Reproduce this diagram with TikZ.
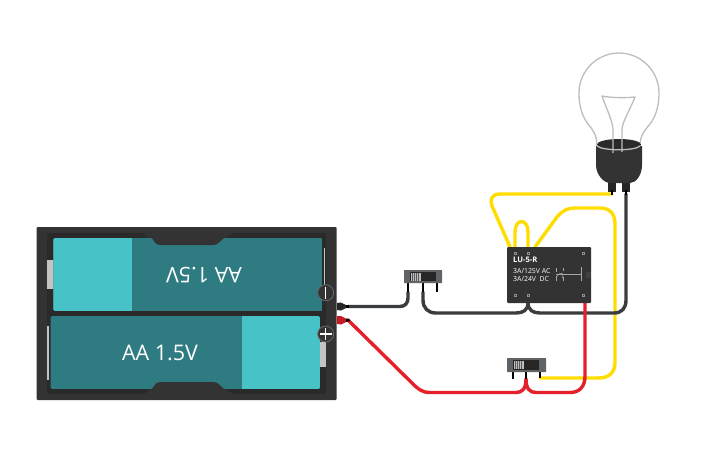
\documentclass[tikz,border=0pt]{standalone}
\usepackage{fontspec}
\setmainfont{Open Sans}
\definecolor{holder}{HTML}{333333}
\definecolor{holderin}{HTML}{2A2A2A}
\definecolor{teal1}{HTML}{2F7B82}
\definecolor{cyan1}{HTML}{47C3C8}
\definecolor{contact}{HTML}{C4C4C4}
\definecolor{wyellow}{HTML}{FFDD00}
\definecolor{wred}{HTML}{E6202A}
\definecolor{wblack}{HTML}{3A3D40}
\definecolor{pin}{HTML}{8F9396}
\definecolor{glass}{HTML}{BDBDBD}
\tikzset{
  wire/.style={line width=3.4pt,line cap=round,line join=round},
  yw/.style={wire,wyellow},
  rw/.style={wire,wred},
  bw/.style={wire,wblack},
  pinline/.style={line width=1.8pt,pin},
  lbl/.style={text=white,inner sep=0pt,font=\fontsize{21.5}{22}\selectfont},
  rel/.style={text=white,inner sep=0pt,anchor=west,font=\fontsize{6.9}{7}\selectfont},
  relpin/.style={draw=white!45!holder,line width=.4pt,minimum size=2.4pt,inner sep=0pt,rectangle},
  pole/.style={circle,draw=gray!70!holder,line width=.8pt,fill=holder,minimum size=16pt,inner sep=0pt},
}
\begin{document}
\begin{tikzpicture}[x=1pt,y=-1pt]
\useasboundingbox[fill=white] (0,0) rectangle (725,453);
% coordinates
\coordinate (bminus) at (348,306.5);
\coordinate (bplus) at (348,320);
\coordinate (s1a) at (408,292);
\coordinate (s1b) at (423,292);
\coordinate (s1c) at (437,292);
\coordinate (s2a) at (513,379);
\coordinate (s2b) at (526,379);
\coordinate (s2c) at (540,378);
\coordinate (r1) at (510,247);
\coordinate (r2) at (515,247);
\coordinate (r3) at (528,247);
\coordinate (r4) at (535,247);
\coordinate (r5) at (528,303);
\coordinate (r6) at (585,303);
\coordinate (l1) at (612,194);
\coordinate (l2) at (626,194);
% battery holder
\fill[holder,rounded corners=1pt] (36.7,227) rectangle (336.7,400);
\fill[holderin,rounded corners=1pt] (47,233) rectangle (326,394);
\fill[holder] (140,232.5) .. controls (148,233) and (150,245) .. (160,245) -- (214,245) .. controls (222,245) and (226,233) .. (237,232.5) -- cycle;
\fill[holder] (142,394.5) .. controls (150,394) and (150,382) .. (160,382) -- (214,382) .. controls (222,382) and (226,394) .. (237,394.5) -- cycle;
% contacts
\fill[contact] (47,260) rectangle (53.5,289);
\fill[contact] (320,342) rectangle (326,367);
\draw[contact,line width=1.2pt] (324.5,248) -- (324.5,292);
\draw[contact,line width=1.2pt] (48,326) -- (48,380);
% top battery
\begin{scope}
\clip[rounded corners=1.5pt] (53.3,238) rectangle (322.7,311);
\fill[teal1] (53,238) rectangle (323,311);
\fill[cyan1] (53,238) rectangle (131.7,311);
\fill[holder] (150,237) .. controls (154,238) and (154,245) .. (160,245) -- (214,245) .. controls (219,245) and (222,238) .. (226,237) -- cycle;
\end{scope}
% bottom battery
\begin{scope}
\clip[rounded corners=1.5pt] (50.7,316) rectangle (320,389);
\fill[teal1] (50,316) rectangle (320,389);
\fill[cyan1] (241.7,316) rectangle (320,389);
\fill[holder] (150,390) .. controls (154,389) and (154,382) .. (160,382) -- (214,382) .. controls (219,382) and (222,389) .. (226,390) -- cycle;
\end{scope}
\node[lbl,rotate=180] (toplabel) at (204,275.5) {AA 1.5V};
\node[lbl] (botlabel) at (160,352.5) {AA 1.5V};
% poles
\node[pole] (minus) at (325.7,292.7) {};
\draw[white,line width=1.4pt] (325.7,286.5) -- (325.7,299);
\node[pole] (plus) at (325.7,334) {};
\draw[white,line width=1.4pt] (325.7,328) -- (325.7,340) (319.7,334) -- (331.7,334);
% battery leads
\fill[black!85] (337,303) -- (341,302.5) -- (346,305) -- (346,308) -- (341,310.5) -- (337,310) -- cycle;
\fill[wred!85!black] (337,316) -- (341,316) -- (346,318.5) -- (346,322) -- (341,324.5) -- (337,324) -- cycle;
% wires
\draw[yw] (l1) -- (500,194) .. controls (491,194) and (490,200) .. (492,206) -- (r1);
\draw[yw] (r2) -- (515,232) .. controls (515,218) and (528,218) .. (528,232) -- (r3);
\draw[yw] (r4) -- (557,217) .. controls (563,210) and (568,208) .. (575,208) -- (600,208) .. controls (610,208) and (615,214) .. (615,224) -- (615,362) .. controls (615,373) and (609,378) .. (598,378) -- (s2c);
\draw[bw] (bminus) -- (400,306.5) .. controls (405,306.5) and (408,303) .. (408,298) -- (s1a);
\draw[bw] (s1b) -- (423,300) .. controls (423,308) and (428,313) .. (436,313) -- (516,313) .. controls (523,313) and (528,310) .. (r5);
\draw[bw] (r5) .. controls (528,310) and (533,313) .. (540,313) -- (614,313) .. controls (622,313) and (626,308) .. (626,300) -- (l2);
\draw[rw] (bplus) -- (412,383) .. controls (418,389) and (422,392.5) .. (430,392.5) -- (516,392.5) .. controls (522,392.5) and (526,389) .. (s2b);
\draw[rw] (s2b) .. controls (526,389) and (530,392.5) .. (536,392.5) -- (570,392.5) .. controls (580,392.5) and (585,386) .. (585,376) -- (r6);
% plug tips
\fill[pin] (346,305) rectangle (349,308);
\fill[pin] (346,318.5) -- (349,318.5) -- (350,321) -- (346,322) -- cycle;
% switch 1
\draw[pinline] (s1a) -- (408,283) (s1b) -- (423,283) (s1c) -- (437,283);
\fill[wblack!80,rounded corners=.5pt] (404,270) rectangle (442,283);
\fill[black!85] (410,272) rectangle (436,281);
\fill[gray!50] (411,273) rectangle (421,280.5);
\foreach \i in {412.5,414.5,416.5,418.5} \draw[black!65,line width=.6pt] (\i,273) -- (\i,280.5);
% switch 2
\draw[pinline] (s2a) -- (513,372) (s2b) -- (526,372) (s2c) -- (540,372);
\fill[wblack!80,rounded corners=.5pt] (507,358) rectangle (546,372);
\fill[black!85] (513,360) rectangle (539,369.5);
\fill[gray!50] (514,361) rectangle (524,369);
\foreach \i in {515.5,517.5,519.5,521.5} \draw[black!65,line width=.6pt] (\i,361) -- (\i,369);
% relay
\fill[holder,rounded corners=1pt] (507,247) rectangle (591,303);
\fill[black!75] (586,272) rectangle (591,278);
\foreach \n/\x/\y in {a/515/253,b/528/253,c/583/253,d/515/295,e/528/295,f/583/295}
  \node[relpin] (p\n) at (\x,\y) {};
\node[rel,font=\fontsize{7.6}{8}\selectfont\bfseries] (rname) at (513,260) {LU-5-R};
\node[rel] (rline1) at (513,271) {3A/125V AC};
\node[rel] (rline2) at (513,279) {3A/24V\ \ DC};
\draw[gray!70!white,line width=.5pt] (556,268) -- (556,272) (556,276) -- (556,281) (563,268) -- (563,271) (563,277) -- (563,281)
  (556,274) -- (581,274) (581,267) -- (581,281);
\draw[gray!70!white,line width=.5pt] (556,278) .. controls (558,274) and (561,272) .. (563,274) .. controls (564,276) and (561,278) .. (563,278);
% bulb glass
\draw[glass,line width=1.3pt,fill=white] (597,146) .. controls (597,135) and (593,130) .. (588,124)
  .. controls (582,116) and (579,106) .. (579,93)
  .. controls (579,71) and (597,53) .. (619,53)
  .. controls (641,53) and (659,71) .. (659,93)
  .. controls (659,106) and (656,116) .. (650,124)
  .. controls (645,130) and (640,135) .. (640,146);
% bulb base
\fill[black!85] (608,180) rectangle (616,192);
\fill[black!85] (622,180) rectangle (630,192);
\fill[pin] (611,190) rectangle (613,195);
\fill[pin] (625,190) rectangle (627,195);
\fill[holder] (596,146) -- (596,165) .. controls (596,175) and (604,183) .. (610,183) -- (630,183) .. controls (636,183) and (642,175) .. (642,165) -- (642,146) -- cycle;
\fill[holderin] (619,144.5) ellipse (22 and 5.5);
\draw[glass,line width=1.3pt] (597,146) .. controls (603,151) and (635,151) .. (640,146);
% filament
\draw[glass,line width=1.3pt,line join=round] (613,153) -- (613,130) .. controls (613,122) and (607,110) .. (602,96)
  .. controls (612,98) and (626,98) .. (635,97) .. controls (630,110) and (622,122) .. (622,130) -- (622,152);
\end{tikzpicture}
\end{document}
